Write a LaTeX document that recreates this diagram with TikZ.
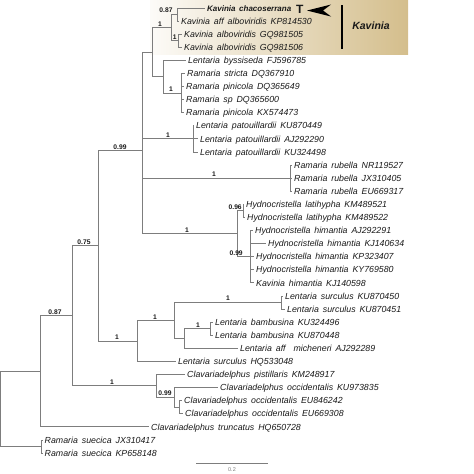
\documentclass[tikz,border=0pt]{standalone}
\usepackage{fontspec}
\setmainfont{Liberation Sans}[WordSpace=1.6]
\definecolor{tanc}{RGB}{212,190,140}
\definecolor{brn}{RGB}{125,125,125}
\definecolor{txt}{RGB}{25,25,25}
\begin{document}
\begin{tikzpicture}[x=1pt,y=-1pt,
  br/.style={draw=brn,line width=1pt},
  leaf/.style={anchor=west,inner xsep=2pt,inner ysep=0pt,text height=6.3pt,text depth=0pt,font=\itshape\fontsize{8.8}{10}\selectfont,text=txt},
  supp/.style={font=\bfseries\fontsize{6.7}{7}\selectfont,inner sep=0.6pt,anchor=south,text=txt}
]
\useasboundingbox (0,0) rectangle (474,474);
% highlight box
\shade[left color=tanc!6, right color=tanc] (150,0) rectangle (408,54);
\draw[line width=1.4pt,black] (342,5) -- (342,49);
\node[font=\bfseries\itshape\fontsize{10.5}{12}\selectfont,text=txt] (kav) at (371,26) {Kavinia};
% internal nodes
\coordinate (Kt) at (177,14.55);
\coordinate (Ka) at (178.5,40.75);
\coordinate (C) at (171,27.65);
\coordinate (E) at (181,93.1);
\coordinate (D) at (163,76.75);
\coordinate (B) at (152,52.2);
\coordinate (F) at (193,138.9);
\coordinate (G) at (290,178.2);
\coordinate (I) at (243,210.9);
\coordinate (J) at (250,256.7);
\coordinate (H) at (237,233.8);
\coordinate (A) at (142,150.8);
\coordinate (M) at (281,302.55);
\coordinate (P) at (210,328.75);
\coordinate (N) at (184,338.6);
\coordinate (L) at (174,320.6);
\coordinate (K) at (137,341.0);
\coordinate (V) at (98,245.9);
\coordinate (T) at (179,407.25);
\coordinate (S) at (174,397.4);
\coordinate (Q) at (156,385.95);
\coordinate (U) at (72,315.9);
\coordinate (W) at (40,371.4);
\coordinate (O) at (41,446.55);
\coordinate (R) at (0.7,409);
% leaves
\node[leaf,font=\bfseries\itshape\fontsize{8}{10}\selectfont] (l1) at (205,8.0) {Kavinia chacoserrana};
\node[anchor=west,inner sep=0pt,font=\bfseries\fontsize{12}{12}\selectfont,text=txt] (tt) at (296,9.5) {T};
\fill[black] (307,10.5) -- (331,4.5) -- (323,10.5) -- (331,16.5) -- cycle;
\node[leaf] (l2) at (179,21.1) {Kavinia aff alboviridis KP814530};
\node[leaf] (l3) at (182,34.2) {Kavinia alboviridis GQ981505};
\node[leaf] (l4) at (182,47.3) {Kavinia alboviridis GQ981506};
\node[leaf] (l5) at (186,60.4) {Lentaria byssiseda FJ596785};
\node[leaf] (l6) at (185,73.5) {Ramaria stricta DQ367910};
\node[leaf] (l7) at (184,86.5) {Ramaria pinicola DQ365649};
\node[leaf] (l8) at (184,99.6) {Ramaria sp DQ365600};
\node[leaf] (l9) at (184,112.7) {Ramaria pinicola KX574473};
\node[leaf] (l10) at (194,125.8) {Lentaria patouillardii KU870449};
\node[leaf] (l11) at (198,138.9) {Lentaria patouillardii AJ292290};
\node[leaf] (l12) at (198,152.0) {Lentaria patouillardii KU324498};
\node[leaf] (l13) at (292,165.1) {Ramaria rubella NR119527};
\node[leaf] (l14) at (292,178.2) {Ramaria rubella JX310405};
\node[leaf] (l15) at (292,191.3) {Ramaria rubella EU669317};
\node[leaf] (l16) at (244,204.4) {Hydnocristella latihypha KM489521};
\node[leaf] (l17) at (245,217.4) {Hydnocristella latihypha KM489522};
\node[leaf] (l18) at (253,230.5) {Hydnocristella himantia AJ292291};
\node[leaf] (l19) at (266,243.6) {Hydnocristella himantia KJ140634};
\node[leaf] (l20) at (254,256.7) {Hydnocristella himantia KP323407};
\node[leaf] (l21) at (254,269.8) {Hydnocristella himantia KY769580};
\node[leaf] (l22) at (254,282.9) {Kavinia himantia KJ140598};
\node[leaf] (l23) at (283,296.0) {Lentaria surculus KU870450};
\node[leaf] (l24) at (285,309.1) {Lentaria surculus KU870451};
\node[leaf] (l25) at (213,322.2) {Lentaria bambusina KU324496};
\node[leaf] (l26) at (213,335.3) {Lentaria bambusina KU870448};
\node[leaf] (l27) at (238,348.4) {Lentaria aff\ \ micheneri AJ292289};
\node[leaf] (l28) at (176,361.4) {Lentaria surculus HQ533048};
\node[leaf] (l29) at (185,374.5) {Clavariadelphus pistillaris KM248917};
\node[leaf] (l30) at (218,387.6) {Clavariadelphus occidentalis KU973835};
\node[leaf] (l31) at (182,400.7) {Clavariadelphus occidentalis EU846242};
\node[leaf] (l32) at (183,413.8) {Clavariadelphus occidentalis EU669308};
\node[leaf] (l33) at (149,426.9) {Clavariadelphus truncatus HQ650728};
\node[leaf] (l34) at (42.5,440.0) {Ramaria suecica JX310417};
\node[leaf] (l35) at (42.5,453.1) {Ramaria suecica KP658148};
% branches
\draw[br] (Kt) |- (l1.west); \draw[br] (Kt) |- (l2.west);
\draw[br] (Ka) |- (l3.west); \draw[br] (Ka) |- (l4.west);
\draw[br] (C) |- (Kt); \draw[br] (C) |- (Ka);
\draw[br] (E) |- (l6.west); \draw[br] (E) |- (l7.west); \draw[br] (E) |- (l8.west); \draw[br] (E) |- (l9.west);
\draw[br] (D) |- (l5.west); \draw[br] (D) |- (E);
\draw[br] (B) |- (C); \draw[br] (B) |- (D);
\draw[br] (F) |- (l10.west); \draw[br] (F) |- (l11.west); \draw[br] (F) |- (l12.west);
\draw[br] (G) |- (l13.west); \draw[br] (G) |- (l14.west); \draw[br] (G) |- (l15.west);
\draw[br] (I) |- (l16.west); \draw[br] (I) |- (l17.west);
\draw[br] (J) |- (l18.west); \draw[br] (J) |- (l19.west); \draw[br] (J) |- (l20.west); \draw[br] (J) |- (l21.west); \draw[br] (J) |- (l22.west);
\draw[br] (H) |- (I); \draw[br] (H) |- (J);
\draw[br] (A) |- (B); \draw[br] (A) |- (F); \draw[br] (A) |- (G); \draw[br] (A) |- (H);
\draw[br] (M) |- (l23.west); \draw[br] (M) |- (l24.west);
\draw[br] (P) |- (l25.west); \draw[br] (P) |- (l26.west);
\draw[br] (N) |- (P); \draw[br] (N) |- (l27.west);
\draw[br] (L) |- (M); \draw[br] (L) |- (N);
\draw[br] (K) |- (L); \draw[br] (K) |- (l28.west);
\draw[br] (V) |- (A); \draw[br] (V) |- (K);
\draw[br] (T) |- (l31.west); \draw[br] (T) |- (l32.west);
\draw[br] (S) |- (l30.west); \draw[br] (S) |- (T);
\draw[br] (Q) |- (l29.west); \draw[br] (Q) |- (S);
\draw[br] (U) |- (V); \draw[br] (U) |- (Q);
\draw[br] (W) |- (U); \draw[br] (W) |- (l33.west);
\draw[br] (O) |- (l34.west); \draw[br] (O) |- (l35.west);
\draw[br] (R) |- (W); \draw[br] (R) |- (O);
% support values
\node[supp] (s1) at (166,13.7) {0.87};
\node[supp] (s2) at (160,26.8) {1};
\node[supp] (s3) at (174.7,39.9) {1};
\node[supp] (s4) at (171,92.3) {1};
\node[supp] (s5) at (120,150) {0.99};
\node[supp] (s6) at (168,138.1) {1};
\node[supp] (s7) at (214,177.4) {1};
\node[supp] (s8) at (187,233) {1};
\node[supp,anchor=south east] (s9) at (242.5,210.1) {0.96};
\node[supp,anchor=south east] (s10) at (243.5,255.9) {0.99};
\node[supp] (s11) at (84,245.1) {0.75};
\node[supp] (s12) at (55,315.1) {0.87};
\node[supp] (s13) at (117,340.2) {1};
\node[supp] (s14) at (155,319.8) {1};
\node[supp] (s15) at (228,301.7) {1};
\node[supp] (s16) at (198,327.9) {1};
\node[supp] (s17) at (112,385.1) {1};
\node[supp] (s18) at (165,396.6) {0.99};
% scale bar
\coordinate (sb1) at (196,463);
\coordinate (sb2) at (268,463);
\draw[draw=brn,line width=0.8pt] (sb1) -- (sb2);
\node[font=\fontsize{5.5}{6}\selectfont,text=brn] (sbl) at (232,470) {0.2};
\end{tikzpicture}
\end{document}
